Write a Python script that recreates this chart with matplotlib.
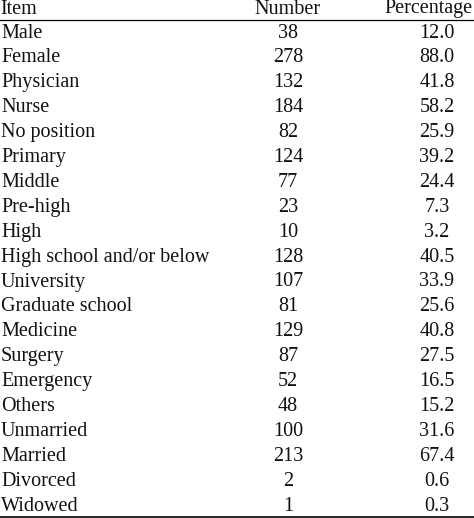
import matplotlib.pyplot as plt

items = ["Male", "Female", "Physician", "Nurse", "No position", "Primary", "Middle",
         "Pre-high", "High", "High school and/or below", "University", "Graduate school",
         "Medicine", "Surgery", "Emergency", "Others", "Unmarried", "Married",
         "Divorced", "Widowed"]
numbers = ["38", "278", "132", "184", "82", "124", "77", "23", "10", "128", "107", "81",
           "129", "87", "52", "48", "100", "213", "2", "1"]
percents = ["12.0", "88.0", "41.8", "58.2", "25.9", "39.2", "24.4", "7.3", "3.2", "40.5",
            "33.9", "25.6", "40.8", "27.5", "16.5", "15.2", "31.6", "67.4", "0.6", "0.3"]

W, H = 474, 518
fig = plt.figure(figsize=(W / 100, H / 100), dpi=100)
ax = fig.add_axes([0, 0, 1, 1])
ax.set_xlim(0, W)
ax.set_ylim(H, 0)
ax.axis("off")

font = dict(family="Liberation Serif", fontsize=14.5, color="#111111", va="center")

ax.text(0, 9, "Item", ha="left", **font)
ax.text(288, 9, "Number", ha="center", **font)
ax.text(473, 9, "Percentage", ha="right", **font)
ax.axhline(20, color="black", lw=0.9)
ax.axhline(517, color="black", lw=1.2)

for i, (it, n, p) in enumerate(zip(items, numbers, percents)):
    y = 33 + i * 24.9
    ax.text(1, y, it, ha="left", **font)
    ax.text(288, y, n, ha="center", **font)
    ax.text(437, y, p, ha="center", **font)

fig.savefig("out.png", dpi=100)
